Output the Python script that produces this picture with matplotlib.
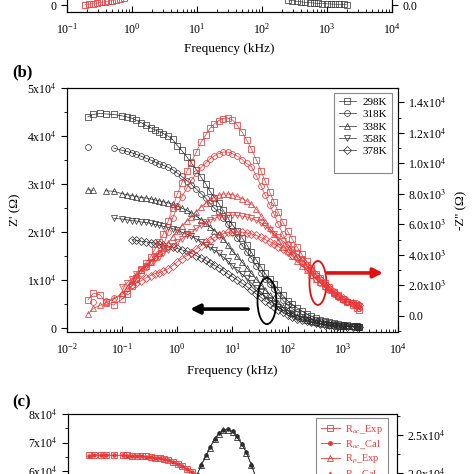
import numpy as np
import matplotlib
matplotlib.use('Agg')
import matplotlib.pyplot as plt
from matplotlib.patches import Ellipse
from matplotlib.lines import Line2D
from matplotlib.ticker import FixedLocator, LogLocator, NullFormatter, MultipleLocator

plt.rcParams['font.family'] = 'Liberation Serif'
plt.rcParams['mathtext.fontset'] = 'stix'

nan = np.nan
RED = '#e8393a'
BLK = '#2b2b2b'

# ---- panel (a): only the bottom strip is visible ----
a_freq_red = [0.19, 0.22, 0.25, 0.29, 0.33, 0.38, 0.43, 0.49, 0.56, 0.65, 0.75]
a_zim = [20, 40, 60, 85, 110, 135, 160, 190, 225, 270, 320]
a_freq_blk = [250, 290, 340, 400, 460, 540, 630, 730, 850, 1000, 1150, 1350, 1550, 1800, 2000]
a_zre = [450, 380, 320, 270, 230, 195, 165, 140, 118, 100, 85, 70, 58, 48, 42]

# ---- panel (b): Z' (x1e4 ohm) and -Z'' (x1e3 ohm) vs frequency (kHz) ----
freq = [0.024, 0.03, 0.04, 0.05, 0.07,
        0.1, 0.12, 0.15, 0.18, 0.22, 0.27, 0.33, 0.39, 0.47, 0.56, 0.68, 0.82,
        1.0, 1.2, 1.5, 1.8, 2.2, 2.7, 3.3, 3.9, 4.7, 5.6, 6.8, 8.2,
        10, 12, 15, 18, 22, 27, 33, 39, 47, 56, 68, 82,
        100, 120, 150, 180, 220, 270, 330, 390, 470, 560, 680, 820,
        1000, 1200, 1500, 1800, 2000]
temps = ['298K', '318K', '338K', '358K', '378K']
markers = ['s', 'o', '^', 'v', 'D']

zre_298 = [4.40, 4.45, 4.47, 4.46, 4.45,
           4.42, 4.40, 4.37, 4.33, 4.28, 4.22, 4.17, 4.13, 4.09, 4.05, 4.00, 3.93,
           3.80, 3.70, 3.56, 3.44, 3.30, 3.14, 3.00, 2.85, 2.72, 2.60, 2.45, 2.30,
           2.15, 2.03, 1.88, 1.74, 1.58, 1.42, 1.27, 1.14, 1.02, 0.92, 0.80, 0.68,
           0.57, 0.50, 0.42, 0.36, 0.30, 0.25, 0.21, 0.18, 0.15, 0.12, 0.10, 0.08,
           0.07, 0.06, 0.05, 0.04, 0.03]
zre_318 = [3.77, nan, nan, nan, 3.75,
           3.70, 3.68, 3.65, 3.62, 3.58, 3.54, 3.50, 3.46, 3.42, 3.39, 3.35, 3.30,
           3.23, 3.16, 3.07, 2.99, 2.90, 2.80, 2.70, 2.60, 2.50, 2.42, 2.30, 2.16,
           2.00, 1.88, 1.72, 1.59, 1.45, 1.30, 1.15, 1.03, 0.91, 0.81, 0.69, 0.58,
           0.48, 0.41, 0.34, 0.29, 0.24, 0.20, 0.17, 0.14, 0.12, 0.10, 0.08, 0.07,
           0.06, 0.05, 0.04, 0.04, 0.03]
zre_338 = [2.88, 2.87, nan, 2.86, 2.85,
           2.80, 2.78, 2.76, 2.74, 2.72, 2.71, 2.69, 2.67, 2.65, 2.63, 2.61, 2.58,
           2.54, 2.50, 2.45, 2.40, 2.33, 2.26, 2.18, 2.11, 2.03, 1.96, 1.86, 1.74,
           1.60, 1.50, 1.37, 1.26, 1.14, 1.02, 0.90, 0.80, 0.70, 0.62, 0.52, 0.44,
           0.37, 0.31, 0.26, 0.22, 0.18, 0.15, 0.12, 0.10, 0.09, 0.07, 0.06, 0.05,
           0.05, 0.04, 0.04, 0.03, 0.03]
zre_358 = [nan, nan, nan, nan, 2.29,
           2.27, 2.26, 2.24, 2.23, 2.21, 2.20, 2.18, 2.16, 2.14, 2.12, 2.10, 2.07,
           2.04, 2.00, 1.96, 1.92, 1.86, 1.80, 1.74, 1.68, 1.62, 1.56, 1.48, 1.40,
           1.30, 1.22, 1.12, 1.04, 0.94, 0.84, 0.75, 0.67, 0.59, 0.52, 0.44, 0.37,
           0.31, 0.27, 0.22, 0.19, 0.16, 0.13, 0.11, 0.09, 0.08, 0.07, 0.06, 0.05,
           0.04, 0.04, 0.03, 0.03, 0.02]
zre_378 = [nan, nan, nan, nan, nan,
           nan, nan, 1.84, 1.83, 1.81, 1.80, 1.78, 1.77, 1.75, 1.73, 1.71, 1.69,
           1.66, 1.63, 1.60, 1.56, 1.51, 1.46, 1.41, 1.36, 1.31, 1.26, 1.20, 1.13,
           1.07, 1.01, 0.93, 0.87, 0.79, 0.71, 0.64, 0.57, 0.51, 0.45, 0.38, 0.33,
           0.27, 0.24, 0.20, 0.17, 0.14, 0.12, 0.10, 0.09, 0.07, 0.06, 0.05, 0.04,
           0.04, 0.03, 0.03, 0.02, 0.02]

zim_298 = [1.05, 1.50, 1.38, 0.90, 0.72,
           1.10, 1.45, 1.95, 2.50, 3.00, 3.50, 3.90, 4.35, 4.85, 5.40, 6.20, 7.10,
           8.00, 8.70, 9.50, 10.10, 10.75, 11.40, 11.90, 12.30, 12.60, 12.80, 12.95, 12.98,
           12.85, 12.55, 12.05, 11.55, 10.95, 10.25, 9.50, 8.85, 8.15, 7.50, 6.80, 6.15,
           5.55, 5.05, 4.50, 4.05, 3.60, 3.15, 2.78, 2.48, 2.18, 1.90, 1.60, 1.35,
           1.10, 0.92, 0.72, 0.52, 0.42]
zim_318 = [nan, 0.90, nan, 1.00, 1.15,
           1.40, 1.65, 2.00, 2.40, 2.80, 3.20, 3.55, 3.85, 4.10, 4.60, 5.50, 6.40,
           7.20, 7.80, 8.40, 8.90, 9.35, 9.75, 10.05, 10.30, 10.50, 10.65, 10.75, 10.75,
           10.65, 10.50, 10.25, 10.00, 9.80, 9.20, 8.50, 7.95, 7.30, 6.70, 6.00, 5.35,
           4.75, 4.30, 3.85, 3.45, 3.05, 2.70, 2.40, 2.15, 1.90, 1.68, 1.45, 1.25,
           1.05, 0.92, 0.78, 0.65, 0.55]
zim_338 = [0.15, 0.50, 0.70, 0.85, 1.10,
           1.50, 1.85, 2.30, 2.70, 3.00, 3.30, 3.55, 3.85, 4.15, 4.45, 4.80, 5.20,
           5.60, 5.90, 6.25, 6.50, 6.85, 7.15, 7.40, 7.60, 7.80, 7.92, 8.00, 8.00,
           7.95, 7.85, 7.70, 7.55, 7.35, 7.00, 6.55, 6.15, 5.75, 5.35, 4.95, 4.55,
           4.25, 3.95, 3.60, 3.30, 3.00, 2.70, 2.45, 2.20, 1.98, 1.75, 1.50, 1.30,
           1.12, 0.98, 0.84, 0.72, 0.65]
zim_358 = [nan, nan, nan, nan, nan,
           1.90, 2.15, 2.45, 2.75, 3.05, 3.30, 3.55, 3.75, 3.90, 4.10, 4.35, 4.60,
           4.85, 5.05, 5.30, 5.50, 5.75, 5.95, 6.15, 6.30, 6.40, 6.50, 6.57, 6.60,
           6.62, 6.60, 6.55, 6.50, 6.40, 6.28, 6.10, 5.90, 5.65, 5.40, 5.15, 4.90,
           4.65, 4.40, 4.05, 3.75, 3.35, 3.00, 2.65, 2.35, 2.05, 1.78, 1.52, 1.30,
           1.10, 0.95, 0.82, 0.72, 0.66]
zim_378 = [nan, nan, nan, nan, nan,
           nan, nan, 2.00, 2.15, 2.30, 2.50, 2.65, 2.78, 2.85, 2.95, 3.10, 3.30,
           3.55, 3.75, 3.95, 4.15, 4.40, 4.60, 4.82, 5.00, 5.15, 5.28, 5.40, 5.48,
           5.50, 5.51, 5.50, 5.45, 5.38, 5.28, 5.15, 5.02, 4.88, 4.72, 4.55, 4.38,
           4.20, 4.02, 3.80, 3.58, 3.30, 3.00, 2.70, 2.40, 2.10, 1.82, 1.56, 1.34,
           1.15, 1.00, 0.86, 0.76, 0.70]

zre_all = [zre_298, zre_318, zre_338, zre_358, zre_378]
zim_all = [zim_298, zim_318, zim_338, zim_358, zim_378]

# ---- panel (c): R_ac (x1e4, left axis) and R_p (x1e4, right axis) ----
rac_exp = [6.55, 6.56, 6.56, 6.56, 6.56,
           6.55, 6.55, 6.54, 6.53, 6.52, 6.51, 6.49, 6.47, 6.45, 6.42, 6.38, 6.33,
           6.25, 6.17, 6.06, 5.96, 5.83, 5.68, 5.52, 5.36, 5.18, 4.98, 4.75, 4.52,
           4.30, 4.05, 3.78, 3.52, 3.25, 2.98, 2.72, 2.52, 2.32, 2.15, 1.98, 1.84,
           1.72, 1.63, 1.55, 1.49, 1.44, 1.40, 1.37, 1.35, 1.33, 1.32, 1.31, 1.30,
           1.29, 1.29, 1.28, 1.28, 1.27]
rac_cal = [6.54, 6.55, 6.55, 6.55, 6.55,
           6.55, 6.54, 6.54, 6.53, 6.52, 6.50, 6.49, 6.47, 6.44, 6.41, 6.37, 6.32,
           6.25, 6.17, 6.06, 5.95, 5.82, 5.68, 5.52, 5.36, 5.18, 4.98, 4.76, 4.53,
           4.30, 4.06, 3.79, 3.52, 3.26, 2.99, 2.73, 2.52, 2.32, 2.15, 1.98, 1.84,
           1.72, 1.63, 1.55, 1.49, 1.44, 1.40, 1.37, 1.35, 1.33, 1.32, 1.31, 1.30,
           1.29, 1.29, 1.28, 1.28, 1.27]
rp_exp = [0.05, 0.06, 0.08, 0.10, 0.14,
          0.20, 0.24, 0.29, 0.35, 0.42, 0.51, 0.61, 0.71, 0.83, 0.96, 1.10, 1.23,
          1.35, 1.48, 1.65, 1.79, 1.95, 2.10, 2.22, 2.33, 2.44, 2.51, 2.56, 2.57,
          2.54, 2.47, 2.37, 2.26, 2.10, 1.93, 1.76, 1.62, 1.47, 1.34, 1.20, 1.07,
          0.96, 0.87, 0.77, 0.69, 0.61, 0.53, 0.46, 0.40, 0.35, 0.30, 0.25, 0.21,
          0.18, 0.15, 0.12, 0.10, 0.09]
rp_cal = [0.05, 0.06, 0.08, 0.10, 0.14,
          0.20, 0.24, 0.29, 0.35, 0.42, 0.51, 0.61, 0.71, 0.83, 0.96, 1.10, 1.23,
          1.36, 1.49, 1.66, 1.80, 1.96, 2.11, 2.23, 2.34, 2.45, 2.52, 2.57, 2.58,
          2.55, 2.48, 2.38, 2.27, 2.11, 1.94, 1.77, 1.62, 1.47, 1.34, 1.20, 1.07,
          0.96, 0.87, 0.77, 0.69, 0.61, 0.53, 0.46, 0.40, 0.35, 0.30, 0.25, 0.21,
          0.18, 0.15, 0.12, 0.10, 0.09]

W = 474.0
fig = plt.figure(figsize=(4.74, 4.74), dpi=100)

def ax_px(left, top, right, bottom):
    return fig.add_axes([left / W, 1 - bottom / W, (right - left) / W, (bottom - top) / W])

def log_x(ax, lo, hi):
    ax.set_xscale('log')
    ax.set_xlim(lo, hi)
    ax.xaxis.set_major_locator(LogLocator(base=10, numticks=12))
    ax.xaxis.set_minor_locator(LogLocator(base=10, subs=np.arange(2, 10), numticks=12))
    ax.xaxis.set_minor_formatter(NullFormatter())
    ax.tick_params(axis='x', which='both', direction='in', top=False, labelsize=8.5, pad=7.5)
    ax.tick_params(axis='x', which='major', length=4, width=0.8)
    ax.tick_params(axis='x', which='minor', length=2, width=0.6)

def y_ticks(ax, vals, labels, minor):
    ax.yaxis.set_major_locator(FixedLocator(vals))
    ax.set_yticklabels(labels)
    ax.yaxis.set_minor_locator(MultipleLocator(minor))
    ax.tick_params(axis='y', which='both', direction='out', labelsize=8.5)
    ax.tick_params(axis='y', which='major', length=4, width=0.8)
    ax.tick_params(axis='y', which='minor', length=2, width=0.6)

# ---------- (a) ----------
axa = ax_px(67, -135, 392, 12)
log_x(axa, 0.1, 1e4)
axa.set_ylim(-600, 12000)
axa2 = axa.twinx()
axa2.set_ylim(-300, 6000)
axa.plot(a_freq_blk, a_zre, marker='s', ms=4, mfc='none', mec=BLK, mew=0.5, color=BLK, lw=0.4)
axa2.plot(a_freq_red, a_zim, marker='s', ms=4, mfc='none', mec=RED, mew=0.6, color=RED, lw=0.4)
y_ticks(axa, [0], ['0'], 2000)
y_ticks(axa2, [0], ['0.0'], 1000)
axa.set_xlabel('Frequency (kHz)', fontsize=9.5, labelpad=4)

# ---------- (b) ----------
axb = ax_px(67, 88, 398, 332)
log_x(axb, 1e-2, 1e4)
axb.set_ylim(-800, 50000)
axb2 = axb.twinx()
axb2.set_ylim(-1050, 14950)
fr = np.array(freq)
handles = []
for t, m, zr, zi in zip(temps, markers, zre_all, zim_all):
    ms = 4.2 if m != 'D' else 3.6
    h, = axb.plot(fr, np.array(zr) * 1e4, marker=m, ms=ms, mfc='none', mec=BLK, mew=0.5,
                  color=BLK, lw=0.5, label=t)
    handles.append(h)
    axb2.plot(fr, np.array(zi) * 1e3, marker=m, ms=ms, mfc='none', mec=RED, mew=0.55,
              color=RED, lw=0.5)
y_ticks(axb, [0, 1e4, 2e4, 3e4, 4e4, 5e4],
        ['0', '1x10$^4$', '2x10$^4$', '3x10$^4$', '4x10$^4$', '5x10$^4$'], 5000)
y_ticks(axb2, [0, 2e3, 4e3, 6e3, 8e3, 1e4, 1.2e4, 1.4e4],
        ['0.0', '2.0x10$^3$', '4.0x10$^3$', '6.0x10$^3$', '8.0x10$^3$',
         '1.0x10$^4$', '1.2x10$^4$', '1.4x10$^4$'], 1000)
axb.set_xlabel('Frequency (kHz)', fontsize=9.5, labelpad=6)
axb.set_ylabel("Z' (\u03a9)", fontsize=9.5)
axb2.set_ylabel("-Z'' (\u03a9)", fontsize=9.5, rotation=90, labelpad=6)

blank = Line2D([], [], ls='none')
leg = axb2.legend(handles + [blank], temps + [' '], loc='upper right',
                  bbox_to_anchor=(0.982, 0.980), borderaxespad=0, fontsize=8,
                  fancybox=False, edgecolor='#888888', framealpha=1,
                  handlelength=1.6, labelspacing=0.22, borderpad=0.4, handletextpad=0.6)
leg.get_frame().set_linewidth(0.8)

axb2.add_patch(Ellipse((0.604, 0.127), 0.057, 0.189, transform=axb2.transAxes,
                       fill=False, ec='black', lw=1.3))
axb2.add_patch(Ellipse((0.758, 0.201), 0.051, 0.180, transform=axb2.transAxes,
                       fill=False, ec='#e01010', lw=1.3))
axb2.annotate('', xy=(0.372, 0.094), xytext=(0.547, 0.094), xycoords='axes fraction',
              arrowprops=dict(arrowstyle='-|>', color='black', lw=2.6, mutation_scale=14,
                              shrinkA=0, shrinkB=0))
axb2.annotate('', xy=(0.955, 0.242), xytext=(0.785, 0.242), xycoords='axes fraction',
              arrowprops=dict(arrowstyle='-|>', color='#e01010', lw=2.6, mutation_scale=14,
                              shrinkA=0, shrinkB=0))

# ---------- (c) ----------
axc = ax_px(68, 414, 397, 613.5)
log_x(axc, 1e-2, 1e4)
axc.set_ylim(1e4, 8e4)
axc2 = axc.twinx()
axc2.set_ylim(1447, 27763)
axc.plot(fr, np.array(rac_exp) * 1e4, marker='s', ms=4, mfc='none', mec=RED, mew=0.6,
         color=RED, lw=0.5)
axc.plot(fr, np.array(rac_cal) * 1e4, marker='o', ms=2.2, mfc=RED, mec=RED, color=RED, lw=0.5)
axc2.plot(fr, np.array(rp_exp) * 1e4, marker='^', ms=4, mfc='none', mec=BLK, mew=0.6,
          color=BLK, lw=0.5)
axc2.plot(fr, np.array(rp_cal) * 1e4, marker='o', ms=2.2, mfc=BLK, mec=BLK, color=BLK, lw=0.5)
y_ticks(axc, [6e4, 7e4, 8e4], ['6x10$^4$', '7x10$^4$', '8x10$^4$'], 5000)
y_ticks(axc2, [2.0e4, 2.5e4], ['2.0x10$^4$', '2.5x10$^4$'], 2500)
axc.tick_params(axis='x', labelbottom=False)

c_labels = ['R$_{ac}$_Exp', 'R$_{ac}$_Cal', 'R$_{p}$_Exp', 'R$_{p}$_Cal']
c_handles = [Line2D([], [], color=RED, lw=0.6, marker='s', ms=4, mfc='none', mew=0.6),
             Line2D([], [], color=RED, lw=0.6, marker='o', ms=2.5, mfc=RED),
             Line2D([], [], color=RED, lw=0.6, marker='^', ms=4, mfc='none', mew=0.6),
             Line2D([], [], color=RED, lw=0.6, marker='^', ms=3, mfc=RED)]
legc = axc2.legend(c_handles, c_labels, loc='upper right', bbox_to_anchor=(0.973, 0.982),
                   borderaxespad=0, fontsize=7.5, fancybox=False, edgecolor='#888888',
                   framealpha=1, handlelength=1.8, labelspacing=0.24, borderpad=0.5,
                   handletextpad=0.5, labelcolor=RED)
legc.get_frame().set_linewidth(0.8)

fig.text(22 / W, 1 - 72 / W, '(b)', fontsize=12, fontweight='bold', ha='center', va='center')
fig.text(22 / W, 1 - 402 / W, '(c)', fontsize=12, fontweight='bold', ha='center', va='center')

fig.savefig('out.png', dpi=100)
